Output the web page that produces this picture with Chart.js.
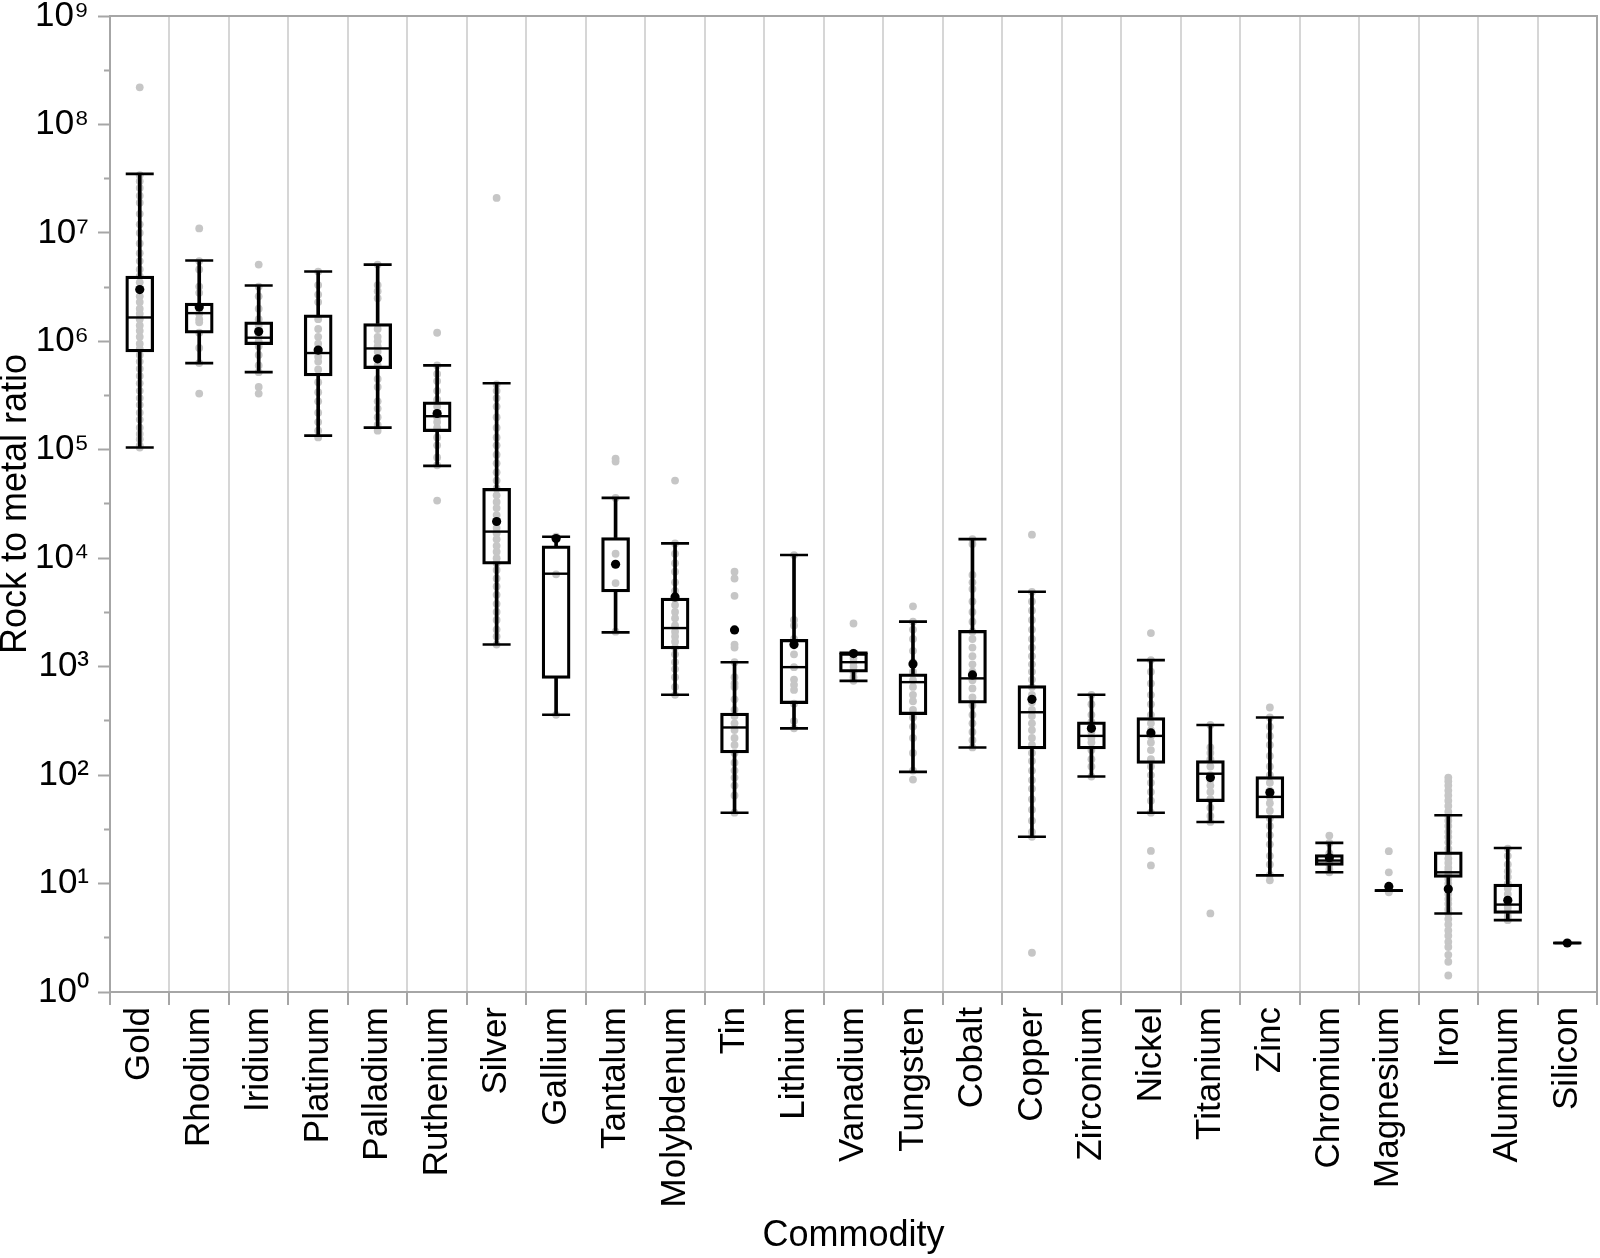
<!DOCTYPE html>
<html lang="en">
<head>
<meta charset="UTF-8">
<title>Rock to metal ratio by commodity</title>
<script src="https://cdn.jsdelivr.net/npm/chart.js"></script>
<style>
  body { margin: 0; background: #fff; }
  #wrap { width: 1600px; height: 1258px; }
</style>
</head>
<body>
<div id="wrap"><canvas id="boxChart" width="1600" height="1258"></canvas></div>
<script>
// categories and box-plot summary values
const categories = ['Gold', 'Rhodium', 'Iridium', 'Platinum', 'Palladium', 'Ruthenium', 'Silver', 'Gallium',
  'Tantalum', 'Molybdenum', 'Tin', 'Lithium', 'Vanadium', 'Tungsten', 'Cobalt', 'Copper', 'Zirconium',
  'Nickel', 'Titanium', 'Zinc', 'Chromium', 'Magnesium', 'Iron', 'Aluminum', 'Silicon'];

const whiskerLow  = [1.05e5, 6.3e5, 5.2e5, 1.35e5, 1.6e5, 7.1e4, 1.6e3, 360, 2.07e3, 550, 45, 270, 740, 107, 180, 27, 97, 45, 37, 11.9, 12.7, 8.6, 5.3, 4.6, 2.83];
const q1          = [8.0e5, 1.19e6, 9.3e5, 4.8e5, 5.6e5, 1.47e5, 8.8e3, 780, 4.9e3, 1.46e3, 160, 456, 890, 360, 460, 174, 174, 128, 57, 40, 14.7, 8.6, 11.4, 5.3, 2.83];
const median      = [1.66e6, 1.82e6, 1.08e6, 7.8e5, 8.6e5, 2.04e5, 1.76e4, 7.2e3, null, 2.27e3, 275, 990, 1.1e3, 720, 780, 380, 230, 230, 103, 63, 16.3, 8.6, 12.7, 6.4, 2.83];
const q3          = [4.0e6, 2.25e6, 1.51e6, 1.76e6, 1.46e6, 2.77e5, 4.4e4, 1.3e4, 1.55e4, 4.3e3, 374, 1.79e3, 1.34e3, 860, 2.16e3, 670, 310, 340, 136, 97, 18.5, 8.6, 19.6, 9.9, 2.83];
const whiskerHigh = [3.5e7, 5.56e6, 3.27e6, 4.4e6, 5.1e6, 6.0e5, 4.1e5, 1.58e4, 3.6e4, 1.37e4, 1.1e3, 1.07e4, 1.34e3, 2.6e3, 1.5e4, 4.9e3, 550, 1.15e3, 290, 340, 23.7, 8.6, 42.6, 21.3, 2.83];
const means       = [3.0e6, 2.07e6, 1.23e6, 8.3e5, 6.9e5, 2.16e5, 2.18e4, 1.52e4, 8.8e3, 4.4e3, 2.18e3, 1.6e3, 1.32e3, 1.06e3, 840, 500, 270, 245, 95, 69, 17.3, 9.4, 8.9, 7.0, 2.83];

// individual observations (grey dots)
const goldPts = [2.2e8, 3.4e7, 3.0e7, 2.6e7, 2.2e7, 1.9e7, 1.5e7, 1.2e7, 1.0e7, 8e6, 6.5e6, 5.5e6, 4.6e6, 4e6, 3.5e6,
  3e6, 2.6e6, 2.3e6, 2e6, 1.8e6, 1.6e6, 1.4e6, 1.25e6, 1.1e6, 9.5e5, 8.5e5, 7.5e5, 6.5e5, 5.6e5, 4.8e5, 4.1e5,
  3.5e5, 3e5, 2.6e5, 2.2e5, 1.9e5, 1.6e5, 1.4e5, 1.25e5, 1.1e5, 1.05e5];
const rhodiumPts = [1.1e7, 5.5e6, 4.6e6, 3.2e6, 2.8e6, 2.0e6, 1.8e6, 1.6e6, 1.5e6, 1.2e6, 8.7e5, 6.3e5, 3.3e5];
const iridiumPts = [5.1e6, 3.2e6, 2.6e6, 2.0e6, 1.6e6, 1.4e6, 1.25e6, 1.1e6, 1.0e6, 9e5, 7.5e5, 6e5, 5.2e5, 3.8e5, 3.3e5];
const platinumPts = [4.4e6, 3.3e6, 2.7e6, 2.3e6, 1.6e6, 1.3e6, 1.1e6, 9.5e5, 8.3e5, 7.2e5, 6.5e5, 5.5e5, 4.2e5,
  3.4e5, 2.8e5, 2.2e5, 1.8e5, 1.5e5, 1.3e5];
const palladiumPts = [5.1e6, 3.3e6, 2.9e6, 2.5e6, 1.3e6, 1.1e6, 1e6, 9e5, 8e5, 7e5, 6e5, 4.5e5, 3.8e5, 2.8e5, 2.4e5,
  2e5, 1.7e5, 1.5e5];
const rutheniumPts = [1.2e6, 6e5, 5e5, 4.3e5, 3.5e5, 2.9e5, 2.5e5, 2.2e5, 2e5, 1.8e5, 1.6e5, 1.3e5, 1.1e5, 8.5e4, 7.2e4, 3.4e4];
const silverPts = [2.1e7, 4e5, 3.5e5, 3e5, 2.5e5, 2e5, 1.6e5, 1.3e5, 1.1e5, 9e4, 7.5e4, 6.2e4, 5.2e4, 4.4e4, 3.8e4,
  3.3e4, 2.9e4, 2.5e4, 2.2e4, 1.9e4, 1.7e4, 1.5e4, 1.3e4, 1.15e4, 1e4, 9e3, 7.8e3, 6.5e3, 5.5e3, 4.6e3, 3.8e3,
  3.2e3, 2.7e3, 2.2e3, 1.9e3, 1.6e3];
const galliumPts = [1.58e4, 7.1e3, 360];
const tantalumPts = [8.3e4, 7.8e4, 3.6e4, 1.1e4, 5.9e3, 2.1e3];
const molybdenumPts = [5.2e4, 1.37e4, 1.1e4, 9e3, 7.5e3, 6e3, 5e3, 4.2e3, 3.7e3, 3.2e3, 2.8e3, 2.4e3, 2.1e3, 1.9e3,
  1.7e3, 1.5e3, 1.3e3, 1.1e3, 950, 800, 650, 550];
const tinPts = [7.5e3, 6.5e3, 4.5e3, 1.6e3, 1.5e3, 1.1e3, 800, 700, 650, 500, 400, 350, 300, 260, 220, 190, 160,
  130, 110, 95, 80, 65, 45];
const lithiumPts = [1.07e4, 2.7e3, 2.4e3, 1.8e3, 1.3e3, 990, 760, 680, 610, 456, 315, 270];
const vanadiumPts = [2.5e3, 1.35e3, 1.3e3, 1.2e3, 1.1e3, 1e3, 900, 800, 740];
const tungstenPts = [3.6e3, 2.6e3, 2.2e3, 1.8e3, 1.4e3, 1.1e3, 900, 750, 650, 550, 480, 400, 340, 280, 220, 160, 110, 91];
const cobaltPts = [1.5e4, 1.35e4, 7e3, 6e3, 5.2e3, 4e3, 3.2e3, 2.6e3, 2.1e3, 1.8e3, 1.5e3, 1.25e3, 1.05e3, 900, 750,
  630, 520, 440, 360, 300, 250, 210, 180];
const copperPts = [1.65e4, 4.9e3, 4e3, 3.3e3, 2.7e3, 2.2e3, 1.8e3, 1.5e3, 1.25e3, 1.05e3, 900, 760, 650, 550, 470,
  400, 350, 300, 260, 220, 190, 160, 135, 110, 90, 75, 60, 48, 38, 30, 27, 2.3];
const zirconiumPts = [550, 450, 360, 310, 280, 250, 220, 200, 170, 140, 120, 97];
const nickelPts = [2.04e3, 1.15e3, 900, 700, 550, 450, 360, 300, 260, 230, 200, 170, 140, 120, 100, 85, 70, 58, 45, 20, 14.7];
const titaniumPts = [290, 180, 160, 140, 120, 100, 90, 80, 70, 60, 50, 42, 37, 5.3];
const zincPts = [420, 340, 280, 230, 190, 150, 120, 100, 85, 72, 63, 55, 47, 40, 34, 28, 23, 18, 15, 12, 10.7];
const chromiumPts = [27.7, 23.7, 19, 17, 16, 15, 13.5, 12.7];
const magnesiumPts = [19.9, 12.7, 8.6, 8.3];
const ironPts = [95, 88, 80, 72, 65, 58, 52, 46, 42, 38, 34, 30, 27, 24, 21, 19, 17, 15.5, 14, 13, 12, 11, 10, 9,
  8, 7.2, 6.5, 5.8, 5.3, 4.7, 4.2, 3.7, 3.3, 2.9, 2.6, 2.2, 1.9, 1.42];
const aluminumPts = [21, 18, 15, 13, 11.5, 10, 9, 8, 7.2, 6.5, 6, 5.5, 5, 4.6];
const siliconPts = [2.83];

const samples = [goldPts, rhodiumPts, iridiumPts, platinumPts, palladiumPts, rutheniumPts, silverPts, galliumPts,
  tantalumPts, molybdenumPts, tinPts, lithiumPts, vanadiumPts, tungstenPts, cobaltPts, copperPts, zirconiumPts,
  nickelPts, titaniumPts, zincPts, chromiumPts, magnesiumPts, ironPts, aluminumPts, siliconPts];

// y axis ticks: labelled decades plus unlabelled half-decade minor ticks
const yMajorTicks = [1, 10, 100, 1e3, 1e4, 1e5, 1e6, 1e7, 1e8, 1e9];
const yMinorTicks = [3.162, 31.62, 316.2, 3162, 31623, 316228, 3162278, 31622777, 316227766];
const yTickLabels = ['10⁰', '10¹', '10²', '10³', '10⁴', '10⁵', '10⁶', '10⁷', '10⁸', '10⁹'];

const FONT = "'Liberation Sans', Arial, sans-serif";
const AXIS_GREY = '#a6a6a6';
Chart.defaults.font.family = FONT;
Chart.defaults.color = '#000';

const dots = [];
samples.forEach((arr, i) => arr.forEach(v => dots.push({ x: categories[i], y: v })));

const caps = categories.map((c, i) => ({ x: c, y: whiskerLow[i] }))
  .concat(categories.map((c, i) => ({ x: c, y: whiskerHigh[i] })));

// grey frame around the plot area (top and right edges)
const framePlugin = {
  id: 'frame',
  beforeDatasetsDraw(chart) {
    const { ctx, chartArea: a } = chart;
    ctx.save();
    ctx.strokeStyle = AXIS_GREY;
    ctx.lineWidth = 2;
    ctx.strokeRect(a.left, a.top, a.right - a.left, a.bottom - a.top);
    ctx.restore();
  }
};

new Chart(document.getElementById('boxChart'), {
  type: 'bar',
  data: {
    labels: categories,
    datasets: [
      {
        type: 'line', label: 'observations', data: dots, showLine: false, order: 6,
        pointRadius: 3.9, pointBackgroundColor: '#c6c6c6', pointBorderWidth: 0
      },
      {
        label: 'lower whisker', data: categories.map((c, i) => [whiskerLow[i], q1[i]]),
        backgroundColor: '#000', barThickness: 3, grouped: false, order: 5
      },
      {
        label: 'upper whisker', data: categories.map((c, i) => [q3[i], whiskerHigh[i]]),
        backgroundColor: '#000', barThickness: 3, grouped: false, order: 5
      },
      {
        label: 'box', data: categories.map((c, i) => [q1[i], q3[i]]),
        backgroundColor: 'rgba(255,255,255,0)', borderColor: '#000', borderWidth: 2.6,
        borderSkipped: false, barThickness: 28, grouped: false, order: 4
      },
      {
        type: 'line', label: 'caps', data: caps, showLine: false, order: 3,
        pointStyle: 'line', pointRadius: 14, pointBorderWidth: 2.6, pointBorderColor: '#000'
      },
      {
        type: 'line', label: 'median', data: categories.map((c, i) => ({ x: c, y: median[i] })),
        showLine: false, order: 2,
        pointStyle: 'line', pointRadius: 12.5, pointBorderWidth: 2.4, pointBorderColor: '#000'
      },
      {
        type: 'line', label: 'mean', data: categories.map((c, i) => ({ x: c, y: means[i] })),
        showLine: false, order: 1,
        pointRadius: 4.6, pointBackgroundColor: '#000', pointBorderWidth: 0
      }
    ]
  },
  options: {
    responsive: false,
    devicePixelRatio: 1,
    animation: false,
    events: [],
    layout: { autoPadding: false, padding: { top: 16, right: 3, left: 0, bottom: 0 } },
    plugins: { legend: { display: false }, tooltip: { enabled: false } },
    scales: {
      x: {
        type: 'category',
        grid: { offset: true, color: '#d6d6d6', lineWidth: 2, tickLength: 13, tickColor: AXIS_GREY, tickWidth: 2 },
        border: { color: AXIS_GREY, width: 2 },
        ticks: { autoSkip: false, minRotation: 90, maxRotation: 90, padding: 2, font: { size: 35, lineHeight: 0.8 } },
        title: { display: true, text: 'Commodity', font: { size: 36, lineHeight: 1.2 }, padding: { top: 0, bottom: 0 } },
        afterFit: s => { s.height = 266; s.paddingLeft = 0; s.paddingRight = 0; }
      },
      y: {
        type: 'logarithmic',
        min: 1,
        max: 1e9,
        afterBuildTicks: s => {
          s.ticks = yMajorTicks.concat(yMinorTicks).sort((a, b) => a - b).map(v => ({ value: v }));
        },
        grid: {
          drawOnChartArea: false, tickLength: 12, tickColor: AXIS_GREY, tickWidth: 2,
          tickBorderDash: ctx => (ctx.tick && yMajorTicks.indexOf(ctx.tick.value) < 0) ? [0, 6, 6] : []
        },
        border: { color: AXIS_GREY, width: 2 },
        ticks: {
          autoSkip: false, padding: 9, font: { size: 35, lineHeight: 0.4 },
          callback: v => { const i = yMajorTicks.indexOf(v); return i >= 0 ? yTickLabels[i] : ''; }
        },
        title: { display: true, text: 'Rock to metal ratio', font: { size: 36, lineHeight: 0.9 }, padding: { top: 0, bottom: 0 } },
        afterFit: s => { s.width = 110; s.paddingTop = 0; s.paddingBottom = 0; }
      }
    }
  },
  plugins: [framePlugin]
});
</script>
</body>
</html>
